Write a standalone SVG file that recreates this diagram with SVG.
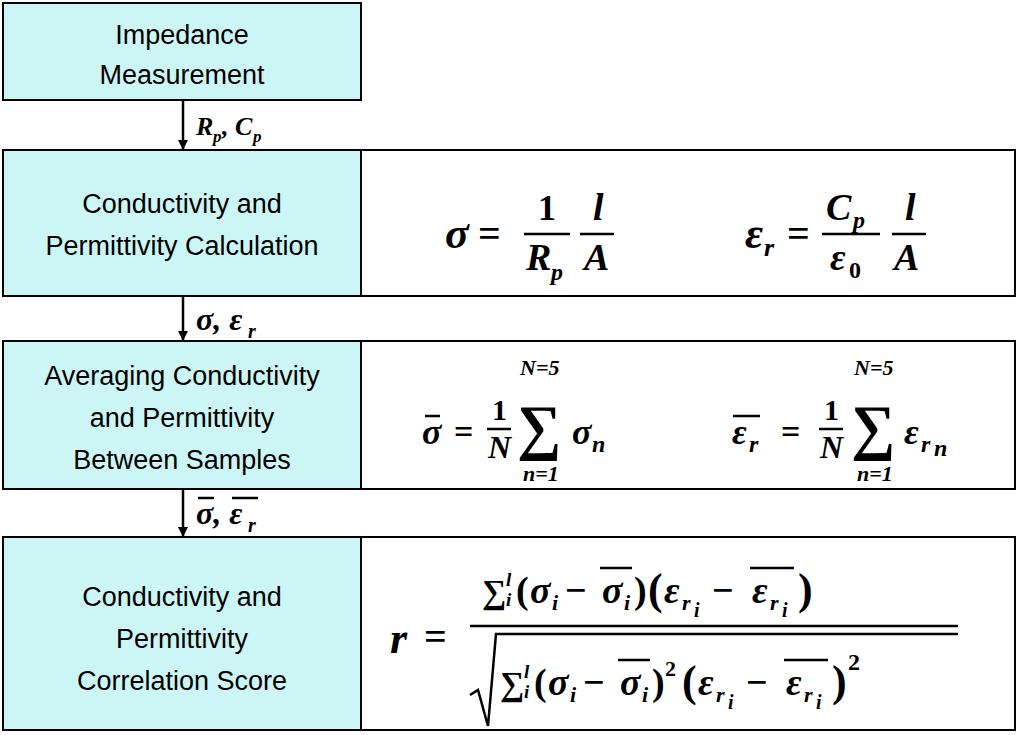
<svg xmlns="http://www.w3.org/2000/svg" width="1020" height="735" viewBox="0 0 1020 735">
<style>
.b{fill:#ccf6f6;stroke:#000;stroke-width:2}
.w{fill:#fff;stroke:#000;stroke-width:2}
.t{font-family:"Liberation Sans",Arial,sans-serif;font-size:27px;text-anchor:middle;fill:#000}
.m{font-family:"Liberation Serif","Times New Roman",serif;font-style:italic;font-weight:bold;fill:#000}
.u{font-family:"Liberation Serif","Times New Roman",serif;font-weight:bold;fill:#000}
.l{stroke:#000;stroke-width:2.5;fill:none}
</style>
<defs><marker id="ah" markerWidth="10" markerHeight="10" refX="9" refY="5" orient="auto" markerUnits="userSpaceOnUse"><path d="M0,0 L10,5 L0,10 z" fill="#000"/></marker></defs>
<rect width="1020" height="735" fill="#fff"/>
<g id="n1"><rect class="b" x="3" y="3" width="358" height="97"/><text class="t" x="182" y="44">Impedance</text><text class="t" x="182" y="84">Measurement</text></g>
<g id="n2"><rect class="b" x="3" y="150" width="358" height="146"/><rect class="w" x="361" y="150" width="654" height="146"/><text class="t" x="182" y="213">Conductivity and</text><text class="t" x="182" y="255">Permittivity Calculation</text>
<text class="m" font-size="44" x="445" y="248">σ</text><text class="u" font-size="40" x="478" y="247">=</text>
<text class="u" font-size="36" x="538" y="220">1</text><line class="l" x1="524" y1="234" x2="570" y2="234"/><text class="m" font-size="38" x="526" y="270">R</text><text class="m" font-size="24" x="551" y="280">p</text>
<text class="m" font-size="38" x="593" y="220">l</text><line class="l" x1="580" y1="234" x2="614" y2="234"/><text class="m" font-size="38" x="584" y="270">A</text>
<text class="m" font-size="44" x="745" y="248">ε</text><text class="m" font-size="26" x="764" y="256">r</text><text class="u" font-size="40" x="787" y="247">=</text>
<text class="m" font-size="38" x="826" y="220">C</text><text class="m" font-size="24" x="853" y="228">p</text><line class="l" x1="822" y1="234" x2="880" y2="234"/><text class="m" font-size="38" x="830" y="270">ε</text><text class="u" font-size="24" x="849" y="278">0</text>
<text class="m" font-size="38" x="905" y="220">l</text><line class="l" x1="892" y1="234" x2="926" y2="234"/><text class="m" font-size="38" x="894" y="270">A</text>
</g>
<g id="n3"><rect class="b" x="3" y="341" width="358" height="148"/><rect class="w" x="361" y="341" width="654" height="148"/><text class="t" x="182" y="385">Averaging Conductivity</text><text class="t" x="182" y="427">and Permittivity</text><text class="t" x="182" y="469">Between Samples</text>
<text class="m" font-size="36" x="422" y="444">σ</text><line class="l" x1="425" y1="416" x2="440" y2="416"/><text class="u" font-size="34" x="454" y="443">=</text>
<text class="u" font-size="30" x="492" y="420">1</text><line class="l" x1="487" y1="429" x2="511" y2="429"/><text class="m" font-size="32" x="488" y="458">N</text>
<text class="u" font-size="62" x="517" y="448">∑</text><text class="m" font-size="22" x="520" y="375">N=5</text><text class="m" font-size="22" x="523" y="481">n=1</text>
<text class="m" font-size="36" x="572" y="444">σ</text><text class="m" font-size="24" x="592" y="452">n</text>
<text class="m" font-size="36" x="732" y="444">ε</text><line class="l" x1="733" y1="416" x2="760" y2="416"/><text class="m" font-size="24" x="749" y="452">r</text><text class="u" font-size="34" x="781" y="443">=</text>
<text class="u" font-size="30" x="824" y="420">1</text><line class="l" x1="819" y1="429" x2="843" y2="429"/><text class="m" font-size="32" x="820" y="458">N</text>
<text class="u" font-size="62" x="851" y="448">∑</text><text class="m" font-size="22" x="854" y="375">N=5</text><text class="m" font-size="22" x="857" y="481">n=1</text>
<text class="m" font-size="36" x="904" y="444">ε</text><text class="m" font-size="24" x="921" y="452">r</text><text class="m" font-size="24" x="934" y="456">n</text>
</g>
<g id="n4"><rect class="b" x="3" y="537" width="358" height="193"/><rect class="w" x="361" y="537" width="654" height="193"/><text class="t" x="182" y="606">Conductivity and</text><text class="t" x="182" y="648">Permittivity</text><text class="t" x="182" y="690">Correlation Score</text>
<text class="m" font-size="44" x="390" y="653">r</text><text class="u" font-size="40" x="424" y="650">=</text>
<line class="l" x1="470" y1="626" x2="958" y2="626"/>
<text class="u" font-size="34" x="482" y="603">∑</text><text class="m" font-size="19" x="506" y="586">l</text><text class="m" font-size="19" x="506" y="606">i</text>
<text class="u" font-size="38" x="516" y="603">(</text><text class="m" font-size="38" x="530" y="603">σ</text><text class="m" font-size="22" x="552" y="610">i</text><text class="u" font-size="38" x="565" y="603">−</text><text class="m" font-size="38" x="602" y="603">σ</text><text class="m" font-size="22" x="624" y="610">i</text><line class="l" x1="600" y1="568" x2="632" y2="568"/><text class="u" font-size="38" x="634" y="603">)</text>
<text class="u" font-size="44" x="648" y="604">(</text><text class="m" font-size="38" x="664" y="603">ε</text><text class="m" font-size="22" x="682" y="610">r</text><text class="m" font-size="20" x="694" y="617">i</text><text class="u" font-size="38" x="712" y="603">−</text><text class="m" font-size="38" x="752" y="603">ε</text><text class="m" font-size="22" x="770" y="610">r</text><text class="m" font-size="20" x="782" y="617">i</text><line class="l" x1="750" y1="568" x2="794" y2="568"/><text class="u" font-size="44" x="798" y="604">)</text>
<path class="l" d="M470,695 L478,690 L488,726 L496,634 L958,634"/>
<text class="u" font-size="34" x="500" y="695">∑</text><text class="m" font-size="19" x="524" y="678">l</text><text class="m" font-size="19" x="524" y="698">i</text>
<text class="u" font-size="38" x="534" y="695">(</text><text class="m" font-size="38" x="548" y="695">σ</text><text class="m" font-size="22" x="570" y="702">i</text><text class="u" font-size="38" x="583" y="695">−</text><text class="m" font-size="38" x="620" y="695">σ</text><text class="m" font-size="22" x="642" y="702">i</text><line class="l" x1="618" y1="660" x2="650" y2="660"/><text class="u" font-size="38" x="652" y="695">)</text><text class="u" font-size="22" x="665" y="676">2</text>
<text class="u" font-size="44" x="682" y="696">(</text><text class="m" font-size="38" x="698" y="695">ε</text><text class="m" font-size="22" x="716" y="702">r</text><text class="m" font-size="20" x="728" y="709">i</text><text class="u" font-size="38" x="746" y="695">−</text><text class="m" font-size="38" x="786" y="695">ε</text><text class="m" font-size="22" x="804" y="702">r</text><text class="m" font-size="20" x="816" y="709">i</text><line class="l" x1="784" y1="660" x2="828" y2="660"/><text class="u" font-size="44" x="832" y="696">)</text><text class="u" font-size="24" x="848" y="670">2</text>
</g>
<g id="connectors">
<line class="l" x1="183" y1="100" x2="183" y2="149" marker-end="url(#ah)"/>
<line class="l" x1="183" y1="296" x2="183" y2="340" marker-end="url(#ah)"/>
<line class="l" x1="183" y1="489" x2="183" y2="536" marker-end="url(#ah)"/>
<text class="m" font-size="26" x="196" y="135">R</text><text class="m" font-size="17" x="213" y="142">p</text><text class="m" font-size="26" x="222" y="135">, C</text><text class="m" font-size="17" x="253" y="142">p</text>
<text class="m" font-size="32" x="196" y="330">σ, ε</text><text class="m" font-size="20" x="248" y="338">r</text>
<text class="m" font-size="32" x="196" y="524">σ, ε</text><line class="l" x1="198" y1="498" x2="214" y2="498"/><line class="l" x1="232" y1="498" x2="258" y2="498"/><text class="m" font-size="20" x="248" y="532">r</text>
</g>
</svg>
